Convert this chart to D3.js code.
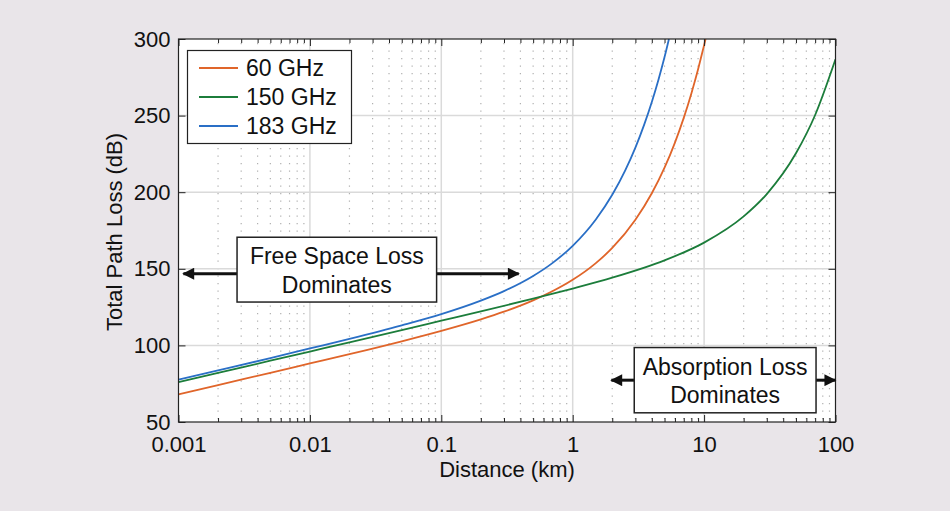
<!DOCTYPE html>
<html lang="en">
<head>
<meta charset="UTF-8">
<title>Total Path Loss vs Distance</title>
<script src="https://d3js.org/d3.v7.min.js"></script>
<style>
  body { margin: 0; background: #e9e5e9; }
  text { font-family: "Liberation Sans", Arial, Helvetica, sans-serif; fill: #111; }
</style>
</head>
<body>
<script>
// distances in km
var dist60  = [0.001,0.002,0.005,0.01,0.02,0.05,0.1,0.2,0.3,0.5,0.7,1,1.5,2,3,4,5,6,7,8,9,10,10.27];
var loss60  = [68.0,74.1,82.1,88.2,94.3,102.7,109.5,117.0,122.0,129.4,135.3,142.8,153.7,163.6,182.0,199.3,216.0,232.4,248.5,264.5,280.3,296.0,300];
var dist150 = [0.001,0.002,0.005,0.01,0.02,0.05,0.1,0.2,0.5,1,2,5,10,20,30,50,70,100];
var loss150 = [76.0,82.0,90.0,96.0,102.0,110.0,116.1,122.2,130.5,137.1,144.2,155.5,167.1,184.2,198.8,225.4,250.4,286.8];
var dist183 = [0.001,0.002,0.005,0.01,0.02,0.05,0.1,0.2,0.3,0.5,0.7,1,1.5,2,2.5,3,3.5,4,4.5,5,5.4];
var loss183 = [77.7,83.7,91.7,98.0,104.3,113.1,120.4,129.2,135.4,145.3,153.7,165.0,182.2,198.3,213.9,229.1,244.1,258.9,273.6,288.2,300];

var seriesNames = ['60 GHz','150 GHz','183 GHz'];
var seriesColors = ['#e0652a','#1c7d3b','#2a6fc6'];
var xTicks = [0.001,0.01,0.1,1,10,100];
var xTickLabels = ['0.001','0.01','0.1','1','10','100'];
var yTicks = [50,100,150,200,250,300];

var width = 950, height = 511;
var pLeft = 178.5, pRight = 835.5, pTop = 39, pBottom = 422;

var svg = d3.select('body').append('svg')
    .attr('width', width)
    .attr('height', height);

var x = d3.scaleLog().domain([0.001, 100]).range([pLeft, pRight]);
var y = d3.scaleLinear().domain([50, 300]).range([pBottom, pTop]);

var minorX = [];
xTicks.slice(0, -1).forEach(function (t) {
    for (var k = 2; k <= 9; k++) minorX.push(t * k);
});

svg.append('rect')
    .attr('x', pLeft).attr('y', pTop)
    .attr('width', pRight - pLeft).attr('height', pBottom - pTop)
    .attr('fill', '#fff');

// grid
svg.append('g').selectAll('line')
    .data(minorX).enter().append('line')
    .attr('x1', function (d) { return x(d); })
    .attr('x2', function (d) { return x(d); })
    .attr('y1', pTop + 4).attr('y2', pBottom)
    .attr('stroke', '#b0b0b0')
    .attr('stroke-width', 1.2)
    .attr('stroke-dasharray', '1.3,6.2');
svg.append('g').selectAll('line')
    .data(xTicks.slice(1, -1)).enter().append('line')
    .attr('x1', function (d) { return x(d); })
    .attr('x2', function (d) { return x(d); })
    .attr('y1', pTop).attr('y2', pBottom)
    .attr('stroke', '#dadada')
    .attr('stroke-width', 1.5);
svg.append('g').selectAll('line')
    .data(yTicks.slice(1, -1)).enter().append('line')
    .attr('x1', pLeft).attr('x2', pRight)
    .attr('y1', function (d) { return y(d); })
    .attr('y2', function (d) { return y(d); })
    .attr('stroke', '#dadada')
    .attr('stroke-width', 1.5);

// curves
var line = d3.line()
    .x(function (d) { return x(d[0]); })
    .y(function (d) { return y(d[1]); })
    .curve(d3.curveMonotoneX);
var series = [
    d3.zip(dist60, loss60),
    d3.zip(dist150, loss150),
    d3.zip(dist183, loss183)
];
svg.append('defs').append('clipPath').attr('id', 'plotclip')
    .append('rect')
    .attr('x', pLeft).attr('y', pTop)
    .attr('width', pRight - pLeft).attr('height', pBottom - pTop);
svg.append('g').attr('clip-path', 'url(#plotclip)')
    .selectAll('path')
    .data(series).enter().append('path')
    .attr('d', line)
    .attr('fill', 'none')
    .attr('stroke', function (d, i) { return seriesColors[i]; })
    .attr('stroke-width', 1.8);

// axes
function styleAxis(g) {
    g.select('.domain').remove();
    g.selectAll('.tick line').attr('stroke', '#222').attr('stroke-width', 1);
    g.selectAll('.tick text').style('font-size', '22px').attr('fill', '#111');
}
svg.append('g').attr('transform', 'translate(0,' + pBottom + ')')
    .call(d3.axisBottom(x).tickValues(xTicks)
        .tickFormat(function (d, i) { return xTickLabels[i]; })
        .tickSize(-7).tickSizeOuter(0).tickPadding(14))
    .call(styleAxis);
svg.append('g').attr('transform', 'translate(0,' + pBottom + ')')
    .call(d3.axisBottom(x).tickValues(minorX).tickFormat('').tickSize(-4).tickSizeOuter(0))
    .call(styleAxis);
svg.append('g').attr('transform', 'translate(0,' + pTop + ')')
    .call(d3.axisTop(x).tickValues(xTicks).tickFormat('').tickSize(-7).tickSizeOuter(0))
    .call(styleAxis);
svg.append('g').attr('transform', 'translate(0,' + pTop + ')')
    .call(d3.axisTop(x).tickValues(minorX).tickFormat('').tickSize(-4).tickSizeOuter(0))
    .call(styleAxis);
svg.append('g').attr('transform', 'translate(' + pLeft + ',0)')
    .call(d3.axisLeft(y).tickValues(yTicks).tickSize(-7).tickSizeOuter(0).tickPadding(8))
    .call(styleAxis);
svg.append('g').attr('transform', 'translate(' + pRight + ',0)')
    .call(d3.axisRight(y).tickValues(yTicks).tickFormat('').tickSize(-7).tickSizeOuter(0))
    .call(styleAxis);

svg.append('rect')
    .attr('x', pLeft).attr('y', pTop)
    .attr('width', pRight - pLeft).attr('height', pBottom - pTop)
    .attr('fill', 'none').attr('stroke', '#222').attr('stroke-width', 1.2);

// axis titles
svg.append('text')
    .attr('x', (pLeft + pRight) / 2).attr('y', 477)
    .attr('text-anchor', 'middle')
    .style('font-size', '22px')
    .text('Distance (km)');
svg.append('text')
    .attr('transform', 'translate(122,232) rotate(-90)')
    .attr('text-anchor', 'middle')
    .style('font-size', '22px')
    .text('Total Path Loss (dB)');

// legend
var legend = svg.append('g');
legend.append('rect')
    .attr('x', 187.5).attr('y', 50.5).attr('width', 164).attr('height', 93)
    .attr('fill', '#fff').attr('stroke', '#222').attr('stroke-width', 1.2);
seriesNames.forEach(function (name, i) {
    var ly = 68 + i * 29;
    legend.append('line')
        .attr('x1', 199).attr('x2', 238).attr('y1', ly).attr('y2', ly)
        .attr('stroke', seriesColors[i]).attr('stroke-width', 1.8);
    legend.append('text')
        .attr('x', 246).attr('y', ly + 8)
        .style('font-size', '23px')
        .text(name);
});

// annotations (data units)
svg.append('defs').append('marker')
    .attr('id', 'arrowhead')
    .attr('viewBox', '0 0 10 10')
    .attr('refX', 9).attr('refY', 5)
    .attr('markerWidth', 4.5).attr('markerHeight', 4)
    .attr('markerUnits', 'strokeWidth')
    .attr('orient', 'auto')
    .append('path').attr('d', 'M0,0 L10,5 L0,10 Z').attr('fill', '#111');

function annotation(opt) {
    var g = svg.append('g');
    var ay = y(opt.arrowY);
    g.append('line')
        .attr('x1', x(opt.box[0])).attr('x2', x(opt.tips[0]))
        .attr('y1', ay).attr('y2', ay)
        .attr('stroke', '#111').attr('stroke-width', 3)
        .attr('marker-end', 'url(#arrowhead)');
    g.append('line')
        .attr('x1', x(opt.box[1])).attr('x2', x(opt.tips[1]))
        .attr('y1', ay).attr('y2', ay)
        .attr('stroke', '#111').attr('stroke-width', 3)
        .attr('marker-end', 'url(#arrowhead)');
    g.append('rect')
        .attr('x', x(opt.box[0])).attr('y', y(opt.boxY[1]))
        .attr('width', x(opt.box[1]) - x(opt.box[0]))
        .attr('height', y(opt.boxY[0]) - y(opt.boxY[1]))
        .attr('fill', '#fff').attr('stroke', '#222').attr('stroke-width', 1.5);
    var cx = (x(opt.box[0]) + x(opt.box[1])) / 2;
    opt.lines.forEach(function (t, i) {
        g.append('text')
            .attr('x', cx).attr('y', y(opt.boxY[1]) + 27 + i * 28.5)
            .attr('text-anchor', 'middle')
            .style('font-size', '23px')
            .text(t);
    });
}
annotation({
    lines: ['Free Space Loss', 'Dominates'],
    box: [0.00279, 0.0921], boxY: [128.3, 170.6],
    arrowY: 146.8, tips: [0.00109, 0.388]
});
annotation({
    lines: ['Absorption Loss', 'Dominates'],
    box: [2.94, 71.1], boxY: [56.0, 98.6],
    arrowY: 77.3, tips: [1.97, 99.5]
});
</script>
</body>
</html>
